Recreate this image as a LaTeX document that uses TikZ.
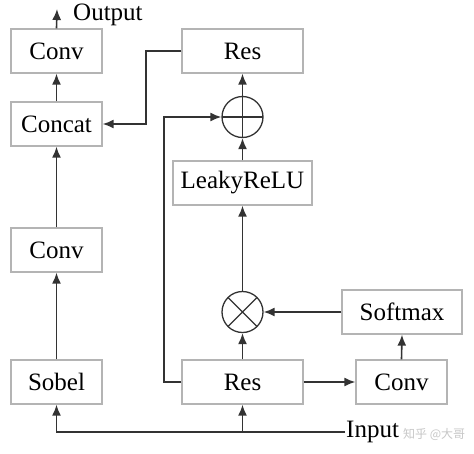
\documentclass[tikz,border=0pt]{standalone}
\usepackage{fontspec}
\setmainfont{Liberation Serif}
\newfontfamily\cjk{Noto Sans CJK SC}
\usetikzlibrary{arrows.meta}
\definecolor{boxgray}{HTML}{B4B4B4}
\definecolor{linegray}{HTML}{333333}
\begin{document}
\begin{tikzpicture}[x=1pt,y=-1pt,
  blk/.style={draw=boxgray,line width=1.3pt,minimum height=44pt,inner sep=0pt,font=\fontsize{25}{30}\selectfont},
  conn/.style={draw=linegray,line width=1.6pt,-{Latex[length=11pt,width=9pt]}},
  op/.style={circle,draw=linegray,line width=1.3pt,minimum size=41pt,inner sep=0pt},
  lbl/.style={inner sep=1pt,font=\fontsize{25}{30}\selectfont}]
\useasboundingbox (0,0) rectangle (474,453);
\fill[white] (0,0) rectangle (474,453);
% left column
\node[blk,minimum width=91pt] (conv1) at (56.5,51) {Conv};
\node[blk,minimum width=91pt] (concat) at (56.5,124) {Concat};
\node[blk,minimum width=91pt] (conv2) at (56.5,250) {Conv};
\node[blk,minimum width=91pt] (sobel) at (56.5,382) {Sobel};
% middle column
\node[blk,minimum width=121pt] (res1) at (242.5,51) {Res};
\node[op,path picture={\draw[linegray,line width=1.3pt] (path picture bounding box.north) -- (path picture bounding box.south) (path picture bounding box.west) -- (path picture bounding box.east);}] (plus) at (242.5,117) {};
\node[blk,minimum width=139pt] (leaky) at (242.5,183) {LeakyReLU};
\node[op,path picture={\draw[linegray,line width=1.3pt] (path picture bounding box.north west) -- (path picture bounding box.south east) (path picture bounding box.south west) -- (path picture bounding box.north east);}] (times) at (242.5,312) {};
\node[blk,minimum width=121pt] (res2) at (242.5,382) {Res};
% right column
\node[blk,minimum width=120pt] (softmax) at (402,312) {Softmax};
\node[blk,minimum width=91pt] (conv3) at (401.5,382) {Conv};
% labels
\coordinate (outtop) at (57,9);
\node[lbl,anchor=west] (output) at (72,15) {Output};
\node[lbl,anchor=west] (input) at (345,432) {Input};
\node[anchor=west,inner sep=0pt,text=black!22,font=\cjk\fontsize{12}{14}\selectfont] (wm) at (403,434) {知乎 @大哥};
% connectors
\draw[conn] (conv1.north) -- (outtop);
\draw[conn] (concat.north) -- (conv1.south);
\draw[conn] (conv2.north) -- (concat.south);
\draw[conn] (sobel.north) -- (conv2.south);
\coordinate (bend1) at (146,51);
\draw[conn] (res1.west) -- (bend1) |- (concat.east);
\draw[conn] (plus.north) -- (res1.south);
\draw[conn] (leaky.north) -- (plus.south);
\draw[conn] (times.north) -- (leaky.south);
\draw[conn] (res2.north) -- (times.south);
\coordinate (bend2) at (164,382);
\draw[conn] (res2.west) -- (bend2) |- (plus.west);
\draw[conn] (res2.east) -- (conv3.west);
\draw[conn] (conv3.north) -- (softmax.south);
\draw[conn] (softmax.west) -- (times.east);
\draw[conn] (input.west) -| (sobel.south);
\coordinate (branch) at (242.5,432);
\draw[conn] (branch) -- (res2.south);
\end{tikzpicture}
\end{document}
